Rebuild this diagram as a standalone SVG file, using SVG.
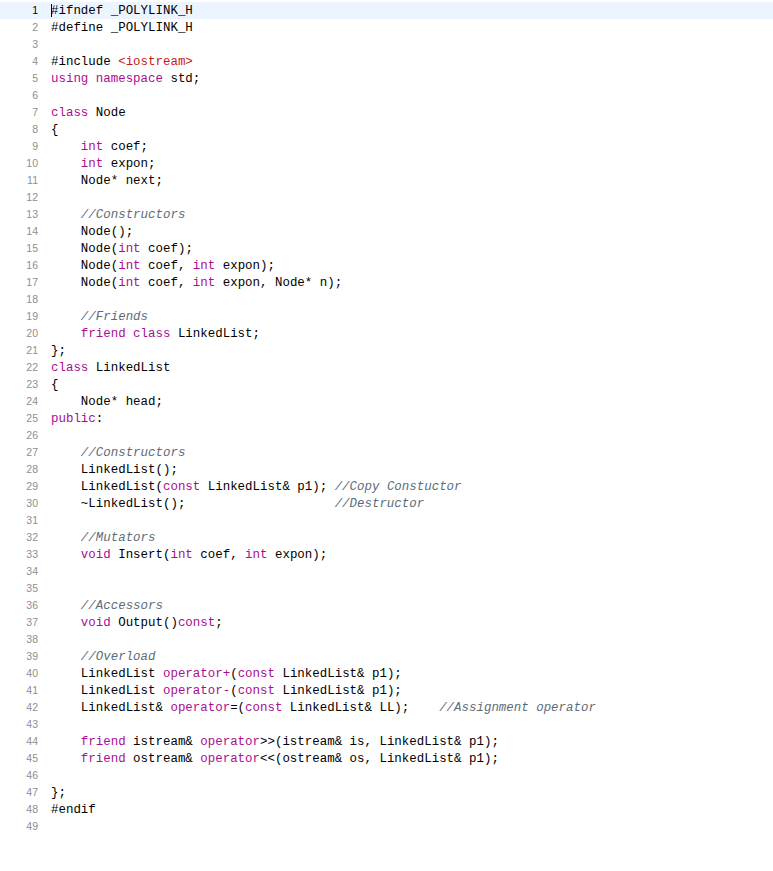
<svg xmlns="http://www.w3.org/2000/svg" width="773" height="871" viewBox="0 0 773 871">
<style>
.t{font-family:"Liberation Mono","DejaVu Sans Mono",monospace;font-size:12.45px;fill:#000;white-space:pre}
.n{font-family:"Liberation Sans","DejaVu Sans",sans-serif;font-size:10.5px;fill:#8e8e93;text-anchor:end}
.k{fill:#aa0d91}
.c{fill:#5d6c79;font-style:italic}
.s{fill:#c41a16}
</style>
<rect width="773" height="871" fill="#fff"/>
<rect x="0" y="2" width="773" height="17" fill="#ecf5ff"/>
<line x1="51.5" y1="4" x2="51.5" y2="17" stroke="#000" stroke-width="1"/>
<g id="numbers">
<text class="n" x="38" y="14" fill="#000" style="fill:#000">1</text>
<text class="n" x="38" y="31">2</text><text class="n" x="38" y="48">3</text><text class="n" x="38" y="65">4</text><text class="n" x="38" y="82">5</text><text class="n" x="38" y="99">6</text><text class="n" x="38" y="116">7</text><text class="n" x="38" y="133">8</text><text class="n" x="38" y="150">9</text><text class="n" x="38" y="167">10</text><text class="n" x="38" y="184">11</text><text class="n" x="38" y="201">12</text><text class="n" x="38" y="218">13</text><text class="n" x="38" y="235">14</text><text class="n" x="38" y="252">15</text><text class="n" x="38" y="269">16</text><text class="n" x="38" y="286">17</text><text class="n" x="38" y="303">18</text><text class="n" x="38" y="320">19</text><text class="n" x="38" y="337">20</text><text class="n" x="38" y="354">21</text><text class="n" x="38" y="371">22</text><text class="n" x="38" y="388">23</text><text class="n" x="38" y="405">24</text><text class="n" x="38" y="422">25</text><text class="n" x="38" y="439">26</text><text class="n" x="38" y="456">27</text><text class="n" x="38" y="473">28</text><text class="n" x="38" y="490">29</text><text class="n" x="38" y="507">30</text><text class="n" x="38" y="524">31</text><text class="n" x="38" y="541">32</text><text class="n" x="38" y="558">33</text><text class="n" x="38" y="575">34</text><text class="n" x="38" y="592">35</text><text class="n" x="38" y="609">36</text><text class="n" x="38" y="626">37</text><text class="n" x="38" y="643">38</text><text class="n" x="38" y="660">39</text><text class="n" x="38" y="677">40</text><text class="n" x="38" y="694">41</text><text class="n" x="38" y="711">42</text><text class="n" x="38" y="728">43</text><text class="n" x="38" y="745">44</text><text class="n" x="38" y="762">45</text><text class="n" x="38" y="779">46</text><text class="n" x="38" y="796">47</text><text class="n" x="38" y="813">48</text><text class="n" x="38" y="830">49</text>
</g>
<g id="code" xml:space="preserve">
<text class="t" x="51" y="14">#ifndef _POLYLINK_H</text>
<text class="t" x="51" y="31">#define _POLYLINK_H</text>
<text class="t" x="51" y="65">#include <tspan class="s">&lt;iostream&gt;</tspan></text>
<text class="t" x="51" y="82"><tspan class="k">using namespace</tspan> std;</text>
<text class="t" x="51" y="116"><tspan class="k">class</tspan> Node</text>
<text class="t" x="51" y="133">{</text>
<text class="t" x="51" y="150">    <tspan class="k">int</tspan> coef;</text>
<text class="t" x="51" y="167">    <tspan class="k">int</tspan> expon;</text>
<text class="t" x="51" y="184">    Node* next;</text>
<text class="t" x="51" y="218">    <tspan class="c">//Constructors</tspan></text>
<text class="t" x="51" y="235">    Node();</text>
<text class="t" x="51" y="252">    Node(<tspan class="k">int</tspan> coef);</text>
<text class="t" x="51" y="269">    Node(<tspan class="k">int</tspan> coef, <tspan class="k">int</tspan> expon);</text>
<text class="t" x="51" y="286">    Node(<tspan class="k">int</tspan> coef, <tspan class="k">int</tspan> expon, Node* n);</text>
<text class="t" x="51" y="320">    <tspan class="c">//Friends</tspan></text>
<text class="t" x="51" y="337">    <tspan class="k">friend class</tspan> LinkedList;</text>
<text class="t" x="51" y="354">};</text>
<text class="t" x="51" y="371"><tspan class="k">class</tspan> LinkedList</text>
<text class="t" x="51" y="388">{</text>
<text class="t" x="51" y="405">    Node* head;</text>
<text class="t" x="51" y="422"><tspan class="k">public</tspan>:</text>
<text class="t" x="51" y="456">    <tspan class="c">//Constructors</tspan></text>
<text class="t" x="51" y="473">    LinkedList();</text>
<text class="t" x="51" y="490">    LinkedList(<tspan class="k">const</tspan> LinkedList&amp; p1); <tspan class="c">//Copy Constuctor</tspan></text>
<text class="t" x="51" y="507">    ~LinkedList();                    <tspan class="c">//Destructor</tspan></text>
<text class="t" x="51" y="541">    <tspan class="c">//Mutators</tspan></text>
<text class="t" x="51" y="558">    <tspan class="k">void</tspan> Insert(<tspan class="k">int</tspan> coef, <tspan class="k">int</tspan> expon);</text>
<text class="t" x="51" y="609">    <tspan class="c">//Accessors</tspan></text>
<text class="t" x="51" y="626">    <tspan class="k">void</tspan> Output()<tspan class="k">const</tspan>;</text>
<text class="t" x="51" y="660">    <tspan class="c">//Overload</tspan></text>
<text class="t" x="51" y="677">    LinkedList <tspan class="k">operator+</tspan>(<tspan class="k">const</tspan> LinkedList&amp; p1);</text>
<text class="t" x="51" y="694">    LinkedList <tspan class="k">operator-</tspan>(<tspan class="k">const</tspan> LinkedList&amp; p1);</text>
<text class="t" x="51" y="711">    LinkedList&amp; <tspan class="k">operator</tspan>=(<tspan class="k">const</tspan> LinkedList&amp; LL);    <tspan class="c">//Assignment operator</tspan></text>
<text class="t" x="51" y="745">    <tspan class="k">friend</tspan> istream&amp; <tspan class="k">operator</tspan>&gt;&gt;(istream&amp; is, LinkedList&amp; p1);</text>
<text class="t" x="51" y="762">    <tspan class="k">friend</tspan> ostream&amp; <tspan class="k">operator</tspan>&lt;&lt;(ostream&amp; os, LinkedList&amp; p1);</text>
<text class="t" x="51" y="796">};</text>
<text class="t" x="51" y="813">#endif</text>
</g>
</svg>
